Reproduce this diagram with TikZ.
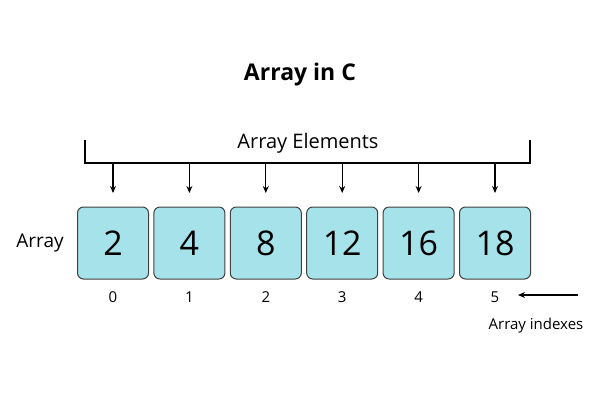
\documentclass[tikz,border=0pt]{standalone}
\usepackage{fontspec}
\usetikzlibrary{arrows.meta}
\setmainfont{Open Sans}
\definecolor{cellfill}{HTML}{A5E2EA}
\begin{document}
\begin{tikzpicture}[x=1pt,y=-1pt,
  cell/.style={draw=black!75,fill=cellfill,line width=1pt,rounded corners=6pt,minimum width=71pt,minimum height=72pt,inner sep=0pt,font=\fontsize{34}{34}\selectfont},
  idx/.style={font=\fontsize{15}{15}\selectfont},
  arr/.style={-{Stealth[length=7pt,width=6pt]},line width=1.2pt}]
\useasboundingbox (0,0) rectangle (600,400);
\node[font=\bfseries\fontsize{23}{23}\selectfont] (title) at (300,75) {Array in C};
\node[font=\fontsize{20}{20}\selectfont] (lab) at (308,143) {Array Elements};
\coordinate (bl) at (85,140); \coordinate (blb) at (85,163);
\coordinate (br) at (530,140); \coordinate (brb) at (530,163);
\draw[line width=1.2pt] (bl) -- (blb) -- (brb) -- (br);
\node[font=\fontsize{19}{19}\selectfont] (arrlab) at (40,243) {Array};
\foreach \v [count=\i from 0] in {2,4,8,12,16,18}{
  \pgfmathsetmacro{\xx}{113+76.4*\i}
  \node[cell] (c\i) at (\xx,243) {\v};
  \coordinate (t\i) at (\xx,163);
  \coordinate (h\i) at (\xx,193);
  \draw[arr] (t\i) -- (h\i);
  \node[idx] (i\i) at (\xx,297) {\i};
}
\coordinate (ps) at (578,295);
\coordinate (pe) at (518,295);
\draw[arr] (ps) -- (pe);
\node[font=\fontsize{15}{15}\selectfont] (ixlab) at (536,326) {Array indexes};
\end{tikzpicture}
\end{document}
